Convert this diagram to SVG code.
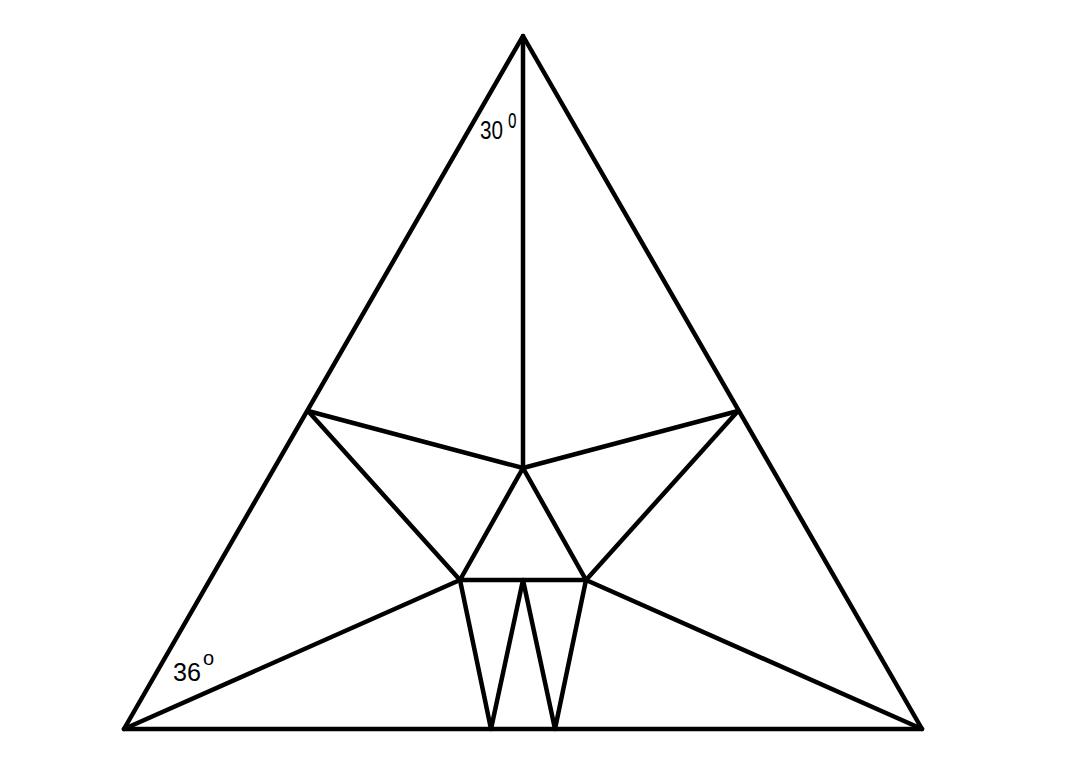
<svg xmlns="http://www.w3.org/2000/svg" width="1090" height="782" viewBox="0 0 1090 782">
<style>
.e{stroke:#000;stroke-width:4.5;fill:none;stroke-linecap:round;stroke-linejoin:round}
.t{font-family:"Liberation Sans",Arial,sans-serif;fill:#000}
</style>
<rect width="1090" height="782" fill="#fff"/>
<g id="connectors" class="e">
<polygon points="523,36 124,729 922,729"/>
<line x1="523" y1="36" x2="523" y2="468"/>
<polyline points="308,411 523,468 738,411"/>
<polygon points="523,468 460,580 586,580"/>
<line x1="308" y1="411" x2="460" y2="580"/>
<line x1="738" y1="411" x2="586" y2="580"/>
<line x1="124" y1="729" x2="460" y2="580"/>
<line x1="922" y1="729" x2="586" y2="580"/>
<polyline points="460,580 491,729 523,580 555,729 586,580"/>
</g>
<g id="label-30">
<text class="t" x="480" y="139" font-size="26" textLength="23" lengthAdjust="spacingAndGlyphs">30</text>
<text class="t" x="508" y="128" font-size="18" transform="translate(508 128) scale(0.85 1.5) translate(-508 -128)">o</text>
</g>
<g id="label-36">
<text class="t" x="173" y="681" font-size="26" textLength="28" lengthAdjust="spacingAndGlyphs">36</text>
<text class="t" x="203" y="665" font-size="20">o</text>
</g>
</svg>
